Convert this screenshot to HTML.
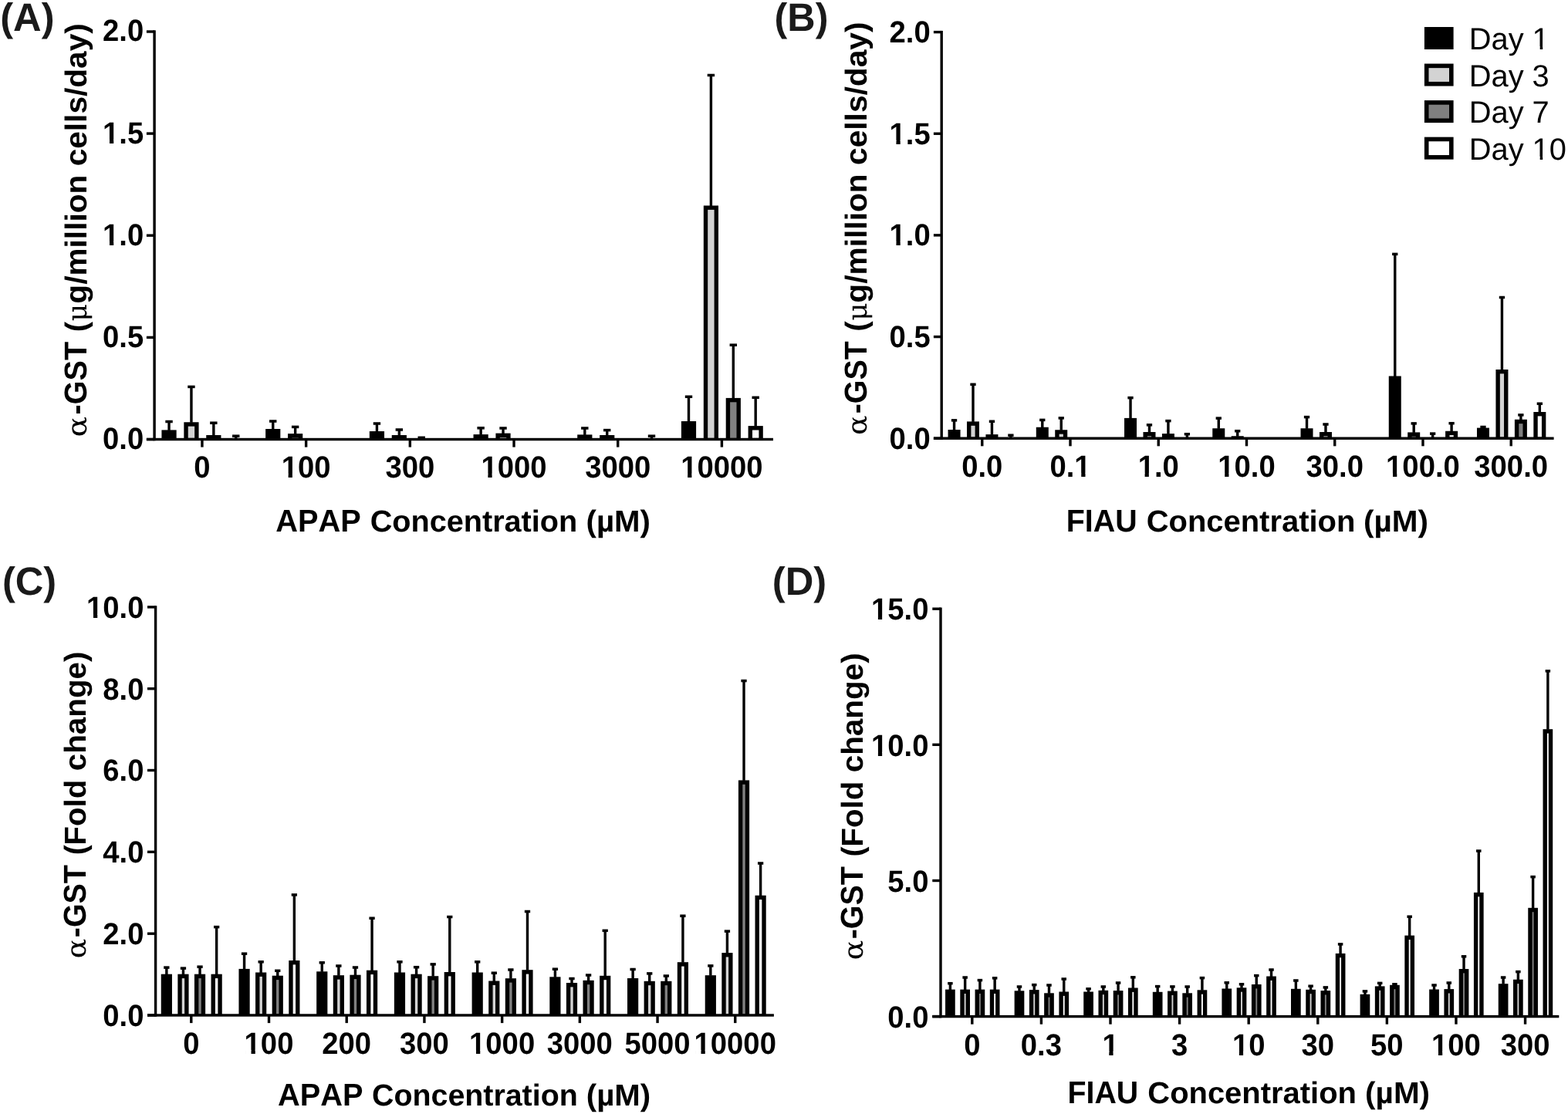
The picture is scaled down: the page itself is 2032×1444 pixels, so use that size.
<!DOCTYPE html>
<html lang="en"><head><meta charset="utf-8">
<title>α-GST release: APAP and FIAU concentration response</title>
<style>html,body{margin:0;padding:0;background:#fff;}body{width:2032px;height:1444px;overflow:hidden;}svg{display:block;}text{white-space:pre;font-kerning:none;}</style>
</head><body>
<svg xmlns="http://www.w3.org/2000/svg" width="2032" height="1444" viewBox="0 0 2032 1444" shape-rendering="auto" text-rendering="geometricPrecision">
<rect x="0" y="0" width="2032" height="1444" fill="#fff"/>
<g class="chart" id="chartA">
<g class="bars">
<rect x="209.45" y="557.4" width="19.2" height="12.1" fill="#000000"/>
<rect x="217.35" y="546.5" width="3.4" height="11.4" fill="#000000"/>
<rect x="214.35" y="544.75" width="9.4" height="3.5" fill="#000000"/>
<rect x="238.35" y="547.25" width="19.2" height="22.25" fill="#000000"/>
<rect x="243.75" y="552.65" width="8.4" height="15.15" fill="#d3d3d3"/>
<rect x="246.25" y="501.4" width="3.4" height="46.35" fill="#000000"/>
<rect x="243.25" y="499.65" width="9.4" height="3.5" fill="#000000"/>
<rect x="267.25" y="564" width="19.2" height="5.5" fill="#000000"/>
<rect x="275.15" y="548.2" width="3.4" height="16.3" fill="#000000"/>
<rect x="272.15" y="546.45" width="9.4" height="3.5" fill="#000000"/>
<rect x="304.05" y="565.2" width="3.4" height="3.1" fill="#000000"/>
<rect x="301.05" y="563.45" width="9.4" height="3.5" fill="#000000"/>
<rect x="344.14" y="556" width="19.2" height="13.5" fill="#000000"/>
<rect x="352.04" y="546" width="3.4" height="10.5" fill="#000000"/>
<rect x="349.04" y="544.25" width="9.4" height="3.5" fill="#000000"/>
<rect x="373.04" y="562.1" width="19.2" height="7.4" fill="#000000"/>
<rect x="378.44" y="567.5" width="8.4" height="0.3" fill="#d3d3d3"/>
<rect x="380.94" y="553.4" width="3.4" height="9.2" fill="#000000"/>
<rect x="377.94" y="551.65" width="9.4" height="3.5" fill="#000000"/>
<rect x="478.83" y="559" width="19.2" height="10.5" fill="#000000"/>
<rect x="486.73" y="549" width="3.4" height="10.5" fill="#000000"/>
<rect x="483.73" y="547.25" width="9.4" height="3.5" fill="#000000"/>
<rect x="507.73" y="564" width="19.2" height="5.5" fill="#000000"/>
<rect x="515.63" y="557" width="3.4" height="7.5" fill="#000000"/>
<rect x="512.63" y="555.25" width="9.4" height="3.5" fill="#000000"/>
<rect x="544.53" y="567.3" width="3.4" height="1" fill="#000000"/>
<rect x="541.53" y="565.55" width="9.4" height="3.5" fill="#000000"/>
<rect x="613.52" y="563.1" width="19.2" height="6.4" fill="#000000"/>
<rect x="621.42" y="554.8" width="3.4" height="8.8" fill="#000000"/>
<rect x="618.42" y="553.05" width="9.4" height="3.5" fill="#000000"/>
<rect x="642.42" y="561.6" width="19.2" height="7.9" fill="#000000"/>
<rect x="647.82" y="567" width="8.4" height="0.8" fill="#d3d3d3"/>
<rect x="650.32" y="555" width="3.4" height="7.1" fill="#000000"/>
<rect x="647.32" y="553.25" width="9.4" height="3.5" fill="#000000"/>
<rect x="748.21" y="563.4" width="19.2" height="6.1" fill="#000000"/>
<rect x="756.11" y="555" width="3.4" height="8.9" fill="#000000"/>
<rect x="753.11" y="553.25" width="9.4" height="3.5" fill="#000000"/>
<rect x="777.11" y="564" width="19.2" height="5.5" fill="#000000"/>
<rect x="785.01" y="557.6" width="3.4" height="6.9" fill="#000000"/>
<rect x="782.01" y="555.85" width="9.4" height="3.5" fill="#000000"/>
<rect x="842.81" y="565.2" width="3.4" height="3.1" fill="#000000"/>
<rect x="839.81" y="563.45" width="9.4" height="3.5" fill="#000000"/>
<rect x="882.9" y="546" width="19.2" height="23.5" fill="#000000"/>
<rect x="890.8" y="514.25" width="3.4" height="32.25" fill="#000000"/>
<rect x="887.8" y="512.5" width="9.4" height="3.5" fill="#000000"/>
<rect x="911.8" y="266.5" width="19.2" height="303" fill="#000000"/>
<rect x="917.2" y="271.9" width="8.4" height="295.9" fill="#d3d3d3"/>
<rect x="919.7" y="97.5" width="3.4" height="169.5" fill="#000000"/>
<rect x="916.7" y="95.75" width="9.4" height="3.5" fill="#000000"/>
<rect x="940.7" y="515.9" width="19.2" height="53.6" fill="#000000"/>
<rect x="946.1" y="521.3" width="8.4" height="46.5" fill="#808080"/>
<rect x="948.6" y="447.2" width="3.4" height="69.2" fill="#000000"/>
<rect x="945.6" y="445.45" width="9.4" height="3.5" fill="#000000"/>
<rect x="969.6" y="552.1" width="19.2" height="17.4" fill="#000000"/>
<rect x="975" y="557.5" width="8.4" height="10.3" fill="#ffffff"/>
<rect x="977.5" y="515.3" width="3.4" height="37.3" fill="#000000"/>
<rect x="974.5" y="513.55" width="9.4" height="3.5" fill="#000000"/>
</g>
<g class="axes">
<rect x="198.4" y="39.3" width="3.4" height="531.9" fill="#000000"/>
<rect x="189.9" y="567.8" width="812.1" height="3.4" fill="#000000"/>
<rect x="189.9" y="39.3" width="10.2" height="3.4" fill="#000000"/>
<rect x="189.9" y="171.4" width="10.2" height="3.4" fill="#000000"/>
<rect x="189.9" y="303.5" width="10.2" height="3.4" fill="#000000"/>
<rect x="189.9" y="435.7" width="10.2" height="3.4" fill="#000000"/>
<rect x="189.9" y="567.8" width="10.2" height="3.4" fill="#000000"/>
<rect x="260.25" y="569.5" width="3.4" height="10.1" fill="#000000"/>
<rect x="394.94" y="569.5" width="3.4" height="10.1" fill="#000000"/>
<rect x="529.63" y="569.5" width="3.4" height="10.1" fill="#000000"/>
<rect x="664.32" y="569.5" width="3.4" height="10.1" fill="#000000"/>
<rect x="799.01" y="569.5" width="3.4" height="10.1" fill="#000000"/>
<rect x="933.7" y="569.5" width="3.4" height="10.1" fill="#000000"/>
</g>
<g class="ticklabels" font-family="'Liberation Sans', Arial, Helvetica, sans-serif" font-weight="bold" font-size="39.85" fill="#000">
<g transform="translate(186.23 53.4) scale(0.96 0.995)"><text x="-55.4" y="0">2.0</text></g>
<g transform="translate(186.23 185.5) scale(0.96 0.995)"><text x="-55.4" y="0">1.5</text><rect x="-53.69" y="-4.77" width="7.59" height="5.67" fill="#fff"/><rect x="-40.63" y="-4.77" width="7.08" height="5.67" fill="#fff"/></g>
<g transform="translate(186.23 317.6) scale(0.96 0.995)"><text x="-55.4" y="0">1.0</text><rect x="-53.69" y="-4.77" width="7.59" height="5.67" fill="#fff"/><rect x="-40.63" y="-4.77" width="7.08" height="5.67" fill="#fff"/></g>
<g transform="translate(186.23 449.8) scale(0.96 0.995)"><text x="-55.4" y="0">0.5</text></g>
<g transform="translate(186.23 581.9) scale(0.96 0.995)"><text x="-55.4" y="0">0.0</text></g>
<g transform="translate(261.95 619) scale(0.96 0.995)"><text x="-11.08" y="0">0</text></g>
<g transform="translate(396.64 619) scale(0.96 0.995)"><text x="-33.24" y="0">100</text><rect x="-31.53" y="-4.77" width="7.59" height="5.67" fill="#fff"/><rect x="-18.48" y="-4.77" width="7.08" height="5.67" fill="#fff"/></g>
<g transform="translate(531.33 619) scale(0.96 0.995)"><text x="-33.24" y="0">300</text></g>
<g transform="translate(666.02 619) scale(0.96 0.995)"><text x="-44.33" y="0">1000</text><rect x="-42.62" y="-4.77" width="7.59" height="5.67" fill="#fff"/><rect x="-29.56" y="-4.77" width="7.08" height="5.67" fill="#fff"/></g>
<g transform="translate(800.71 619) scale(0.96 0.995)"><text x="-44.33" y="0">3000</text></g>
<g transform="translate(935.4 619) scale(0.96 0.995)"><text x="-55.41" y="0">10000</text><rect x="-53.7" y="-4.77" width="7.59" height="5.67" fill="#fff"/><rect x="-40.64" y="-4.77" width="7.08" height="5.67" fill="#fff"/></g>
</g>
<g class="titles">
<text transform="translate(357.2 688.8) scale(0.9992 1.025)" font-family="'Liberation Sans', Arial, Helvetica, sans-serif" font-weight="bold" font-size="39.85" fill="#000">APAP</text>
<text transform="translate(479.66 688.8) scale(0.9948 0.985)" font-family="'Liberation Sans', Arial, Helvetica, sans-serif" font-weight="bold" font-size="39.85" fill="#000">Concentration</text>
<text transform="translate(759.5 688.8) scale(1.0086 0.985)" font-family="'Liberation Sans', Arial, Helvetica, sans-serif" font-weight="bold" font-size="39.85" fill="#000">(µM)</text>
<text transform="translate(112.3 566.47) rotate(-90) scale(1.1264 1)" font-family="'DejaVu Serif', serif" font-weight="normal" font-size="35" fill="#000">α</text>
<text transform="translate(112.3 537.55) rotate(-90) scale(0.9946 1.025)" font-family="'Liberation Sans', Arial, Helvetica, sans-serif" font-weight="bold" font-size="39.85" fill="#000">-GST</text>
<text transform="translate(112.3 430.18) rotate(-90) scale(0.9988 0.985)" font-family="'Liberation Sans', Arial, Helvetica, sans-serif" font-weight="bold" font-size="39.85" fill="#000">(</text>
<text transform="translate(112.3 416.39) rotate(-90) scale(0.9937 1)" font-family="'DejaVu Serif', serif" font-weight="normal" font-size="35" fill="#000">μ</text>
<text transform="translate(112.3 393.63) rotate(-90) scale(1.0199 0.985)" font-family="'Liberation Sans', Arial, Helvetica, sans-serif" font-weight="bold" font-size="39.85" fill="#000">g/million cells/day)</text>
</g>
<text transform="translate(0.22 40) scale(1.0063 1.015)" font-family="'Liberation Sans', Arial, Helvetica, sans-serif" font-weight="bold" font-size="50.4" fill="#1a1a1a">(A)</text>
</g>
<g class="chart" id="chartB">
<g class="bars">
<rect x="1228.55" y="557" width="16" height="11.2" fill="#000000"/>
<rect x="1234.85" y="544.85" width="3.4" height="12.65" fill="#000000"/>
<rect x="1232.9" y="543.1" width="7.3" height="3.5" fill="#000000"/>
<rect x="1253" y="546.4" width="16" height="21.8" fill="#000000"/>
<rect x="1258.4" y="551.8" width="5.2" height="14.7" fill="#d3d3d3"/>
<rect x="1259.3" y="498.3" width="3.4" height="48.6" fill="#000000"/>
<rect x="1257.35" y="496.55" width="7.3" height="3.5" fill="#000000"/>
<rect x="1277.45" y="563.1" width="16" height="5.1" fill="#000000"/>
<rect x="1283.75" y="546.25" width="3.4" height="17.35" fill="#000000"/>
<rect x="1281.8" y="544.5" width="7.3" height="3.5" fill="#000000"/>
<rect x="1308.2" y="564.2" width="3.4" height="2.8" fill="#000000"/>
<rect x="1306.25" y="562.45" width="7.3" height="3.5" fill="#000000"/>
<rect x="1342.79" y="553.75" width="16" height="14.45" fill="#000000"/>
<rect x="1349.09" y="544.4" width="3.4" height="9.85" fill="#000000"/>
<rect x="1347.14" y="542.65" width="7.3" height="3.5" fill="#000000"/>
<rect x="1367.24" y="557.25" width="16" height="10.95" fill="#000000"/>
<rect x="1372.64" y="562.65" width="5.2" height="3.85" fill="#d3d3d3"/>
<rect x="1373.54" y="541.9" width="3.4" height="15.85" fill="#000000"/>
<rect x="1371.59" y="540.15" width="7.3" height="3.5" fill="#000000"/>
<rect x="1457.03" y="541.9" width="16" height="26.3" fill="#000000"/>
<rect x="1463.33" y="515.6" width="3.4" height="26.8" fill="#000000"/>
<rect x="1461.38" y="513.85" width="7.3" height="3.5" fill="#000000"/>
<rect x="1481.48" y="560" width="16" height="8.2" fill="#000000"/>
<rect x="1486.88" y="565.4" width="5.2" height="1.1" fill="#d3d3d3"/>
<rect x="1487.78" y="550.8" width="3.4" height="9.7" fill="#000000"/>
<rect x="1485.83" y="549.05" width="7.3" height="3.5" fill="#000000"/>
<rect x="1505.93" y="562.1" width="16" height="6.1" fill="#000000"/>
<rect x="1512.23" y="545.6" width="3.4" height="17" fill="#000000"/>
<rect x="1510.28" y="543.85" width="7.3" height="3.5" fill="#000000"/>
<rect x="1536.68" y="562.7" width="3.4" height="4.3" fill="#000000"/>
<rect x="1534.73" y="560.95" width="7.3" height="3.5" fill="#000000"/>
<rect x="1571.27" y="555.25" width="16" height="12.95" fill="#000000"/>
<rect x="1577.57" y="542.1" width="3.4" height="13.65" fill="#000000"/>
<rect x="1575.62" y="540.35" width="7.3" height="3.5" fill="#000000"/>
<rect x="1595.72" y="565.25" width="16" height="2.95" fill="#000000"/>
<rect x="1602.02" y="558.7" width="3.4" height="7.05" fill="#000000"/>
<rect x="1600.07" y="556.95" width="7.3" height="3.5" fill="#000000"/>
<rect x="1685.51" y="555.25" width="16" height="12.95" fill="#000000"/>
<rect x="1691.81" y="540.6" width="3.4" height="15.15" fill="#000000"/>
<rect x="1689.86" y="538.85" width="7.3" height="3.5" fill="#000000"/>
<rect x="1709.96" y="560" width="16" height="8.2" fill="#000000"/>
<rect x="1715.36" y="565.4" width="5.2" height="1.1" fill="#d3d3d3"/>
<rect x="1716.26" y="550" width="3.4" height="10.5" fill="#000000"/>
<rect x="1714.31" y="548.25" width="7.3" height="3.5" fill="#000000"/>
<rect x="1799.75" y="487.5" width="16" height="80.7" fill="#000000"/>
<rect x="1806.05" y="329.4" width="3.4" height="158.6" fill="#000000"/>
<rect x="1804.1" y="327.65" width="7.3" height="3.5" fill="#000000"/>
<rect x="1824.2" y="560.4" width="16" height="7.8" fill="#000000"/>
<rect x="1829.6" y="565.8" width="5.2" height="0.7" fill="#d3d3d3"/>
<rect x="1830.5" y="548.9" width="3.4" height="12" fill="#000000"/>
<rect x="1828.55" y="547.15" width="7.3" height="3.5" fill="#000000"/>
<rect x="1854.95" y="562.1" width="3.4" height="4.9" fill="#000000"/>
<rect x="1853" y="560.35" width="7.3" height="3.5" fill="#000000"/>
<rect x="1873.1" y="558.75" width="16" height="9.45" fill="#000000"/>
<rect x="1878.5" y="564.15" width="5.2" height="2.35" fill="#ffffff"/>
<rect x="1879.4" y="548.7" width="3.4" height="10.55" fill="#000000"/>
<rect x="1877.45" y="546.95" width="7.3" height="3.5" fill="#000000"/>
<rect x="1913.99" y="554.6" width="16" height="13.6" fill="#000000"/>
<rect x="1920.29" y="553.5" width="3.4" height="1.6" fill="#000000"/>
<rect x="1918.34" y="551.75" width="7.3" height="3.5" fill="#000000"/>
<rect x="1938.44" y="479" width="16" height="89.2" fill="#000000"/>
<rect x="1943.84" y="484.4" width="5.2" height="82.1" fill="#d3d3d3"/>
<rect x="1944.74" y="385.5" width="3.4" height="94" fill="#000000"/>
<rect x="1942.79" y="383.75" width="7.3" height="3.5" fill="#000000"/>
<rect x="1962.89" y="543.75" width="16" height="24.45" fill="#000000"/>
<rect x="1968.29" y="549.15" width="5.2" height="17.35" fill="#808080"/>
<rect x="1969.19" y="537.9" width="3.4" height="6.35" fill="#000000"/>
<rect x="1967.24" y="536.15" width="7.3" height="3.5" fill="#000000"/>
<rect x="1987.34" y="534" width="16" height="34.2" fill="#000000"/>
<rect x="1992.74" y="539.4" width="5.2" height="27.1" fill="#ffffff"/>
<rect x="1993.64" y="523.25" width="3.4" height="11.25" fill="#000000"/>
<rect x="1991.69" y="521.5" width="7.3" height="3.5" fill="#000000"/>
</g>
<g class="axes">
<rect x="1218.5" y="39.9" width="3.4" height="530" fill="#000000"/>
<rect x="1209.9" y="566.5" width="803.7" height="3.4" fill="#000000"/>
<rect x="1209.9" y="39.9" width="10.3" height="3.4" fill="#000000"/>
<rect x="1209.9" y="171.55" width="10.3" height="3.4" fill="#000000"/>
<rect x="1209.9" y="303.2" width="10.3" height="3.4" fill="#000000"/>
<rect x="1209.9" y="434.85" width="10.3" height="3.4" fill="#000000"/>
<rect x="1209.9" y="566.5" width="10.3" height="3.4" fill="#000000"/>
<rect x="1271.07" y="568.2" width="3.4" height="10.1" fill="#000000"/>
<rect x="1385.31" y="568.2" width="3.4" height="10.1" fill="#000000"/>
<rect x="1499.55" y="568.2" width="3.4" height="10.1" fill="#000000"/>
<rect x="1613.79" y="568.2" width="3.4" height="10.1" fill="#000000"/>
<rect x="1728.03" y="568.2" width="3.4" height="10.1" fill="#000000"/>
<rect x="1842.27" y="568.2" width="3.4" height="10.1" fill="#000000"/>
<rect x="1956.51" y="568.2" width="3.4" height="10.1" fill="#000000"/>
</g>
<g class="ticklabels" font-family="'Liberation Sans', Arial, Helvetica, sans-serif" font-weight="bold" font-size="39.85" fill="#000">
<g transform="translate(1205.73 54.9) scale(0.96 0.995)"><text x="-55.4" y="0">2.0</text></g>
<g transform="translate(1205.73 186.55) scale(0.96 0.995)"><text x="-55.4" y="0">1.5</text><rect x="-53.69" y="-4.77" width="7.59" height="5.67" fill="#fff"/><rect x="-40.63" y="-4.77" width="7.08" height="5.67" fill="#fff"/></g>
<g transform="translate(1205.73 318.2) scale(0.96 0.995)"><text x="-55.4" y="0">1.0</text><rect x="-53.69" y="-4.77" width="7.59" height="5.67" fill="#fff"/><rect x="-40.63" y="-4.77" width="7.08" height="5.67" fill="#fff"/></g>
<g transform="translate(1205.73 449.85) scale(0.96 0.995)"><text x="-55.4" y="0">0.5</text></g>
<g transform="translate(1205.73 581.5) scale(0.96 0.995)"><text x="-55.4" y="0">0.0</text></g>
<g transform="translate(1272.77 618.1) scale(0.96 0.995)"><text x="-27.7" y="0">0.0</text></g>
<g transform="translate(1387.01 618.1) scale(0.96 0.995)"><text x="-27.7" y="0">0.1</text><rect x="7.25" y="-4.77" width="7.59" height="5.67" fill="#fff"/><rect x="20.3" y="-4.77" width="7.08" height="5.67" fill="#fff"/></g>
<g transform="translate(1501.25 618.1) scale(0.96 0.995)"><text x="-27.7" y="0">1.0</text><rect x="-25.99" y="-4.77" width="7.59" height="5.67" fill="#fff"/><rect x="-12.93" y="-4.77" width="7.08" height="5.67" fill="#fff"/></g>
<g transform="translate(1615.49 618.1) scale(0.96 0.995)"><text x="-38.78" y="0">10.0</text><rect x="-37.07" y="-4.77" width="7.59" height="5.67" fill="#fff"/><rect x="-24.01" y="-4.77" width="7.08" height="5.67" fill="#fff"/></g>
<g transform="translate(1729.73 618.1) scale(0.96 0.995)"><text x="-38.78" y="0">30.0</text></g>
<g transform="translate(1843.97 618.1) scale(0.96 0.995)"><text x="-49.86" y="0">100.0</text><rect x="-48.15" y="-4.77" width="7.59" height="5.67" fill="#fff"/><rect x="-35.09" y="-4.77" width="7.08" height="5.67" fill="#fff"/></g>
<g transform="translate(1958.21 618.1) scale(0.96 0.995)"><text x="-49.86" y="0">300.0</text></g>
</g>
<g class="titles">
<text transform="translate(1381.77 689) scale(0.9881 1.025)" font-family="'Liberation Sans', Arial, Helvetica, sans-serif" font-weight="bold" font-size="39.85" fill="#000">FIAU</text>
<text transform="translate(1485.65 689) scale(1.0027 0.985)" font-family="'Liberation Sans', Arial, Helvetica, sans-serif" font-weight="bold" font-size="39.85" fill="#000">Concentration</text>
<text transform="translate(1766.98 689) scale(1.0162 0.985)" font-family="'Liberation Sans', Arial, Helvetica, sans-serif" font-weight="bold" font-size="39.85" fill="#000">(µM)</text>
<text transform="translate(1122.9 563.71) rotate(-90) scale(1.0668 1)" font-family="'DejaVu Serif', serif" font-weight="normal" font-size="35" fill="#000">α</text>
<text transform="translate(1122.9 536.24) rotate(-90) scale(0.9876 1.025)" font-family="'Liberation Sans', Arial, Helvetica, sans-serif" font-weight="bold" font-size="39.85" fill="#000">-GST</text>
<text transform="translate(1122.9 429.82) rotate(-90) scale(1.0166 0.985)" font-family="'Liberation Sans', Arial, Helvetica, sans-serif" font-weight="bold" font-size="39.85" fill="#000">(</text>
<text transform="translate(1122.9 415.78) rotate(-90) scale(1.0256 1)" font-family="'DejaVu Serif', serif" font-weight="normal" font-size="35" fill="#000">μ</text>
<text transform="translate(1122.9 392.63) rotate(-90) scale(1.022 0.985)" font-family="'Liberation Sans', Arial, Helvetica, sans-serif" font-weight="bold" font-size="39.85" fill="#000">g/million cells/day)</text>
</g>
<text transform="translate(1003.59 39.9) scale(0.9994 1.015)" font-family="'Liberation Sans', Arial, Helvetica, sans-serif" font-weight="bold" font-size="50.4" fill="#1a1a1a">(B)</text>
</g>
<g class="chart" id="chartC">
<g class="bars">
<rect x="208.75" y="1262.7" width="14.2" height="53.3" fill="#000000"/>
<rect x="214.15" y="1254.1" width="3.4" height="9.1" fill="#000000"/>
<rect x="212.2" y="1252.35" width="7.3" height="3.5" fill="#000000"/>
<rect x="230.35" y="1262.7" width="14.2" height="53.3" fill="#000000"/>
<rect x="235.75" y="1268.1" width="3.4" height="46.2" fill="#d3d3d3"/>
<rect x="235.75" y="1255.1" width="3.4" height="8.1" fill="#000000"/>
<rect x="233.8" y="1253.35" width="7.3" height="3.5" fill="#000000"/>
<rect x="251.95" y="1262.7" width="14.2" height="53.3" fill="#000000"/>
<rect x="257.35" y="1268.1" width="3.4" height="46.2" fill="#808080"/>
<rect x="257.35" y="1253.2" width="3.4" height="10" fill="#000000"/>
<rect x="255.4" y="1251.45" width="7.3" height="3.5" fill="#000000"/>
<rect x="273.55" y="1262.7" width="14.2" height="53.3" fill="#000000"/>
<rect x="278.95" y="1268.1" width="3.4" height="46.2" fill="#ffffff"/>
<rect x="278.95" y="1201.6" width="3.4" height="61.6" fill="#000000"/>
<rect x="277" y="1199.85" width="7.3" height="3.5" fill="#000000"/>
<rect x="309.46" y="1255.9" width="14.2" height="60.1" fill="#000000"/>
<rect x="314.86" y="1236.2" width="3.4" height="20.2" fill="#000000"/>
<rect x="312.91" y="1234.45" width="7.3" height="3.5" fill="#000000"/>
<rect x="331.06" y="1260.5" width="14.2" height="55.5" fill="#000000"/>
<rect x="336.46" y="1265.9" width="3.4" height="48.4" fill="#d3d3d3"/>
<rect x="336.46" y="1246.8" width="3.4" height="14.2" fill="#000000"/>
<rect x="334.51" y="1245.05" width="7.3" height="3.5" fill="#000000"/>
<rect x="352.66" y="1264.7" width="14.2" height="51.3" fill="#000000"/>
<rect x="358.06" y="1270.1" width="3.4" height="44.2" fill="#808080"/>
<rect x="358.06" y="1258.3" width="3.4" height="6.9" fill="#000000"/>
<rect x="356.11" y="1256.55" width="7.3" height="3.5" fill="#000000"/>
<rect x="374.26" y="1245" width="14.2" height="71" fill="#000000"/>
<rect x="379.66" y="1250.4" width="3.4" height="63.9" fill="#ffffff"/>
<rect x="379.66" y="1159.9" width="3.4" height="85.6" fill="#000000"/>
<rect x="377.71" y="1158.15" width="7.3" height="3.5" fill="#000000"/>
<rect x="410.17" y="1259.3" width="14.2" height="56.7" fill="#000000"/>
<rect x="415.57" y="1247.8" width="3.4" height="12" fill="#000000"/>
<rect x="413.62" y="1246.05" width="7.3" height="3.5" fill="#000000"/>
<rect x="431.77" y="1264.2" width="14.2" height="51.8" fill="#000000"/>
<rect x="437.17" y="1269.6" width="3.4" height="44.7" fill="#d3d3d3"/>
<rect x="437.17" y="1252" width="3.4" height="12.7" fill="#000000"/>
<rect x="435.22" y="1250.25" width="7.3" height="3.5" fill="#000000"/>
<rect x="453.37" y="1263.7" width="14.2" height="52.3" fill="#000000"/>
<rect x="458.77" y="1269.1" width="3.4" height="45.2" fill="#808080"/>
<rect x="458.77" y="1254" width="3.4" height="10.2" fill="#000000"/>
<rect x="456.82" y="1252.25" width="7.3" height="3.5" fill="#000000"/>
<rect x="474.97" y="1257.7" width="14.2" height="58.3" fill="#000000"/>
<rect x="480.37" y="1263.1" width="3.4" height="51.2" fill="#ffffff"/>
<rect x="480.37" y="1190.2" width="3.4" height="68" fill="#000000"/>
<rect x="478.42" y="1188.45" width="7.3" height="3.5" fill="#000000"/>
<rect x="510.88" y="1260.5" width="14.2" height="55.5" fill="#000000"/>
<rect x="516.28" y="1246.8" width="3.4" height="14.2" fill="#000000"/>
<rect x="514.33" y="1245.05" width="7.3" height="3.5" fill="#000000"/>
<rect x="532.48" y="1262.7" width="14.2" height="53.3" fill="#000000"/>
<rect x="537.88" y="1268.1" width="3.4" height="46.2" fill="#d3d3d3"/>
<rect x="537.88" y="1253.7" width="3.4" height="9.5" fill="#000000"/>
<rect x="535.93" y="1251.95" width="7.3" height="3.5" fill="#000000"/>
<rect x="554.08" y="1265.2" width="14.2" height="50.8" fill="#000000"/>
<rect x="559.48" y="1270.6" width="3.4" height="43.7" fill="#808080"/>
<rect x="559.48" y="1249.9" width="3.4" height="15.8" fill="#000000"/>
<rect x="557.53" y="1248.15" width="7.3" height="3.5" fill="#000000"/>
<rect x="575.68" y="1260" width="14.2" height="56" fill="#000000"/>
<rect x="581.08" y="1265.4" width="3.4" height="48.9" fill="#ffffff"/>
<rect x="581.08" y="1188.5" width="3.4" height="72" fill="#000000"/>
<rect x="579.13" y="1186.75" width="7.3" height="3.5" fill="#000000"/>
<rect x="611.59" y="1260.5" width="14.2" height="55.5" fill="#000000"/>
<rect x="616.99" y="1246.8" width="3.4" height="14.2" fill="#000000"/>
<rect x="615.04" y="1245.05" width="7.3" height="3.5" fill="#000000"/>
<rect x="633.19" y="1271.5" width="14.2" height="44.5" fill="#000000"/>
<rect x="638.59" y="1276.9" width="3.4" height="37.4" fill="#d3d3d3"/>
<rect x="638.59" y="1261.2" width="3.4" height="10.8" fill="#000000"/>
<rect x="636.64" y="1259.45" width="7.3" height="3.5" fill="#000000"/>
<rect x="654.79" y="1268.2" width="14.2" height="47.8" fill="#000000"/>
<rect x="660.19" y="1273.6" width="3.4" height="40.7" fill="#808080"/>
<rect x="660.19" y="1257" width="3.4" height="11.7" fill="#000000"/>
<rect x="658.24" y="1255.25" width="7.3" height="3.5" fill="#000000"/>
<rect x="676.39" y="1257.2" width="14.2" height="58.8" fill="#000000"/>
<rect x="681.79" y="1262.6" width="3.4" height="51.7" fill="#ffffff"/>
<rect x="681.79" y="1181.5" width="3.4" height="76.2" fill="#000000"/>
<rect x="679.84" y="1179.75" width="7.3" height="3.5" fill="#000000"/>
<rect x="712.3" y="1266.3" width="14.2" height="49.7" fill="#000000"/>
<rect x="717.7" y="1256.2" width="3.4" height="10.6" fill="#000000"/>
<rect x="715.75" y="1254.45" width="7.3" height="3.5" fill="#000000"/>
<rect x="733.9" y="1274" width="14.2" height="42" fill="#000000"/>
<rect x="739.3" y="1279.4" width="3.4" height="34.9" fill="#d3d3d3"/>
<rect x="739.3" y="1268.5" width="3.4" height="6" fill="#000000"/>
<rect x="737.35" y="1266.75" width="7.3" height="3.5" fill="#000000"/>
<rect x="755.5" y="1270.8" width="14.2" height="45.2" fill="#000000"/>
<rect x="760.9" y="1276.2" width="3.4" height="38.1" fill="#808080"/>
<rect x="760.9" y="1264" width="3.4" height="7.3" fill="#000000"/>
<rect x="758.95" y="1262.25" width="7.3" height="3.5" fill="#000000"/>
<rect x="777.1" y="1264.8" width="14.2" height="51.2" fill="#000000"/>
<rect x="782.5" y="1270.2" width="3.4" height="44.1" fill="#ffffff"/>
<rect x="782.5" y="1206.3" width="3.4" height="59" fill="#000000"/>
<rect x="780.55" y="1204.55" width="7.3" height="3.5" fill="#000000"/>
<rect x="813.01" y="1268" width="14.2" height="48" fill="#000000"/>
<rect x="818.41" y="1256.5" width="3.4" height="12" fill="#000000"/>
<rect x="816.46" y="1254.75" width="7.3" height="3.5" fill="#000000"/>
<rect x="834.61" y="1271.8" width="14.2" height="44.2" fill="#000000"/>
<rect x="840.01" y="1277.2" width="3.4" height="37.1" fill="#d3d3d3"/>
<rect x="840.01" y="1261.9" width="3.4" height="10.4" fill="#000000"/>
<rect x="838.06" y="1260.15" width="7.3" height="3.5" fill="#000000"/>
<rect x="856.21" y="1271.8" width="14.2" height="44.2" fill="#000000"/>
<rect x="861.61" y="1277.2" width="3.4" height="37.1" fill="#808080"/>
<rect x="861.61" y="1265" width="3.4" height="7.3" fill="#000000"/>
<rect x="859.66" y="1263.25" width="7.3" height="3.5" fill="#000000"/>
<rect x="877.81" y="1247.2" width="14.2" height="68.8" fill="#000000"/>
<rect x="883.21" y="1252.6" width="3.4" height="61.7" fill="#ffffff"/>
<rect x="883.21" y="1187.2" width="3.4" height="60.5" fill="#000000"/>
<rect x="881.26" y="1185.45" width="7.3" height="3.5" fill="#000000"/>
<rect x="913.72" y="1264.2" width="14.2" height="51.8" fill="#000000"/>
<rect x="919.12" y="1251.9" width="3.4" height="12.8" fill="#000000"/>
<rect x="917.17" y="1250.15" width="7.3" height="3.5" fill="#000000"/>
<rect x="935.32" y="1235.1" width="14.2" height="80.9" fill="#000000"/>
<rect x="940.72" y="1240.5" width="3.4" height="73.8" fill="#d3d3d3"/>
<rect x="940.72" y="1207.1" width="3.4" height="28.5" fill="#000000"/>
<rect x="938.77" y="1205.35" width="7.3" height="3.5" fill="#000000"/>
<rect x="956.92" y="1011.4" width="14.2" height="304.6" fill="#000000"/>
<rect x="962.32" y="1016.8" width="3.4" height="297.5" fill="#808080"/>
<rect x="962.32" y="882.5" width="3.4" height="129.4" fill="#000000"/>
<rect x="960.37" y="880.75" width="7.3" height="3.5" fill="#000000"/>
<rect x="978.52" y="1160.7" width="14.2" height="155.3" fill="#000000"/>
<rect x="983.92" y="1166.1" width="3.4" height="148.2" fill="#ffffff"/>
<rect x="983.92" y="1119" width="3.4" height="42.2" fill="#000000"/>
<rect x="981.97" y="1117.25" width="7.3" height="3.5" fill="#000000"/>
</g>
<g class="axes">
<rect x="199.9" y="785.2" width="3.4" height="532.5" fill="#000000"/>
<rect x="191" y="1314.3" width="811.9" height="3.4" fill="#000000"/>
<rect x="191" y="785.2" width="10.6" height="3.4" fill="#000000"/>
<rect x="191" y="891" width="10.6" height="3.4" fill="#000000"/>
<rect x="191" y="996.8" width="10.6" height="3.4" fill="#000000"/>
<rect x="191" y="1102.6" width="10.6" height="3.4" fill="#000000"/>
<rect x="191" y="1208.5" width="10.6" height="3.4" fill="#000000"/>
<rect x="191" y="1314.3" width="10.6" height="3.4" fill="#000000"/>
<rect x="246.1" y="1316" width="3.4" height="10.1" fill="#000000"/>
<rect x="346.81" y="1316" width="3.4" height="10.1" fill="#000000"/>
<rect x="447.52" y="1316" width="3.4" height="10.1" fill="#000000"/>
<rect x="548.23" y="1316" width="3.4" height="10.1" fill="#000000"/>
<rect x="648.94" y="1316" width="3.4" height="10.1" fill="#000000"/>
<rect x="749.65" y="1316" width="3.4" height="10.1" fill="#000000"/>
<rect x="850.36" y="1316" width="3.4" height="10.1" fill="#000000"/>
<rect x="951.07" y="1316" width="3.4" height="10.1" fill="#000000"/>
</g>
<g class="ticklabels" font-family="'Liberation Sans', Arial, Helvetica, sans-serif" font-weight="bold" font-size="39.85" fill="#000">
<g transform="translate(186.53 800.7) scale(0.96 0.995)"><text x="-77.56" y="0">10.0</text><rect x="-75.85" y="-4.77" width="7.59" height="5.67" fill="#fff"/><rect x="-62.79" y="-4.77" width="7.08" height="5.67" fill="#fff"/></g>
<g transform="translate(186.53 906.5) scale(0.96 0.995)"><text x="-55.4" y="0">8.0</text></g>
<g transform="translate(186.53 1012.3) scale(0.96 0.995)"><text x="-55.4" y="0">6.0</text></g>
<g transform="translate(186.53 1118.1) scale(0.96 0.995)"><text x="-55.4" y="0">4.0</text></g>
<g transform="translate(186.53 1224) scale(0.96 0.995)"><text x="-55.4" y="0">2.0</text></g>
<g transform="translate(186.53 1329.8) scale(0.96 0.995)"><text x="-55.4" y="0">0.0</text></g>
<g transform="translate(247.8 1365.9) scale(0.96 0.995)"><text x="-11.08" y="0">0</text></g>
<g transform="translate(348.51 1365.9) scale(0.96 0.995)"><text x="-33.24" y="0">100</text><rect x="-31.53" y="-4.77" width="7.59" height="5.67" fill="#fff"/><rect x="-18.48" y="-4.77" width="7.08" height="5.67" fill="#fff"/></g>
<g transform="translate(449.22 1365.9) scale(0.96 0.995)"><text x="-33.24" y="0">200</text></g>
<g transform="translate(549.93 1365.9) scale(0.96 0.995)"><text x="-33.24" y="0">300</text></g>
<g transform="translate(650.64 1365.9) scale(0.96 0.995)"><text x="-44.33" y="0">1000</text><rect x="-42.62" y="-4.77" width="7.59" height="5.67" fill="#fff"/><rect x="-29.56" y="-4.77" width="7.08" height="5.67" fill="#fff"/></g>
<g transform="translate(751.35 1365.9) scale(0.96 0.995)"><text x="-44.33" y="0">3000</text></g>
<g transform="translate(852.06 1365.9) scale(0.96 0.995)"><text x="-44.33" y="0">5000</text></g>
<g transform="translate(952.77 1365.9) scale(0.96 0.995)"><text x="-55.41" y="0">10000</text><rect x="-53.7" y="-4.77" width="7.59" height="5.67" fill="#fff"/><rect x="-40.64" y="-4.77" width="7.08" height="5.67" fill="#fff"/></g>
</g>
<g class="titles">
<text transform="translate(359.9 1433.2) scale(0.9992 1.025)" font-family="'Liberation Sans', Arial, Helvetica, sans-serif" font-weight="bold" font-size="39.85" fill="#000">APAP</text>
<text transform="translate(482.03 1433.2) scale(0.9879 0.985)" font-family="'Liberation Sans', Arial, Helvetica, sans-serif" font-weight="bold" font-size="39.85" fill="#000">Concentration</text>
<text transform="translate(759.8 1433.2) scale(1.0086 0.985)" font-family="'Liberation Sans', Arial, Helvetica, sans-serif" font-weight="bold" font-size="39.85" fill="#000">(µM)</text>
<text transform="translate(110.7 1242.41) rotate(-90) scale(1.093 1)" font-family="'DejaVu Serif', serif" font-weight="normal" font-size="35" fill="#000">α</text>
<text transform="translate(110.7 1215.24) rotate(-90) scale(0.9892 1.025)" font-family="'Liberation Sans', Arial, Helvetica, sans-serif" font-weight="bold" font-size="39.85" fill="#000">-GST</text>
<text transform="translate(110.7 1108.36) rotate(-90) scale(0.9899 0.985)" font-family="'Liberation Sans', Arial, Helvetica, sans-serif" font-weight="bold" font-size="39.85" fill="#000">(</text>
<text transform="translate(110.7 1095.7) rotate(-90) scale(1.0135 0.985)" font-family="'Liberation Sans', Arial, Helvetica, sans-serif" font-weight="bold" font-size="39.85" fill="#000">Fold change)</text>
</g>
<text transform="translate(2.88 770.6) scale(1.0055 1.015)" font-family="'Liberation Sans', Arial, Helvetica, sans-serif" font-weight="bold" font-size="50.4" fill="#1a1a1a">(C)</text>
</g>
<g class="chart" id="chartD">
<g class="bars">
<rect x="1225.05" y="1282.6" width="12.7" height="35" fill="#000000"/>
<rect x="1229.7" y="1274.7" width="3.4" height="8.4" fill="#000000"/>
<rect x="1228.15" y="1272.95" width="6.5" height="3.5" fill="#000000"/>
<rect x="1244.3" y="1282.6" width="12.7" height="35" fill="#000000"/>
<rect x="1249.7" y="1288" width="1.9" height="27.9" fill="#d3d3d3"/>
<rect x="1248.95" y="1267" width="3.4" height="16.1" fill="#000000"/>
<rect x="1247.4" y="1265.25" width="6.5" height="3.5" fill="#000000"/>
<rect x="1263.55" y="1282.6" width="12.7" height="35" fill="#000000"/>
<rect x="1268.95" y="1288" width="1.9" height="27.9" fill="#808080"/>
<rect x="1268.2" y="1270.6" width="3.4" height="12.5" fill="#000000"/>
<rect x="1266.65" y="1268.85" width="6.5" height="3.5" fill="#000000"/>
<rect x="1282.8" y="1282.6" width="12.7" height="35" fill="#000000"/>
<rect x="1288.2" y="1288" width="1.9" height="27.9" fill="#ffffff"/>
<rect x="1287.45" y="1267.8" width="3.4" height="15.3" fill="#000000"/>
<rect x="1285.9" y="1266.05" width="6.5" height="3.5" fill="#000000"/>
<rect x="1314.64" y="1284.3" width="12.7" height="33.3" fill="#000000"/>
<rect x="1319.29" y="1279" width="3.4" height="5.8" fill="#000000"/>
<rect x="1317.74" y="1277.25" width="6.5" height="3.5" fill="#000000"/>
<rect x="1333.89" y="1283.1" width="12.7" height="34.5" fill="#000000"/>
<rect x="1339.29" y="1288.5" width="1.9" height="27.4" fill="#d3d3d3"/>
<rect x="1338.54" y="1276.6" width="3.4" height="7" fill="#000000"/>
<rect x="1336.99" y="1274.85" width="6.5" height="3.5" fill="#000000"/>
<rect x="1353.14" y="1287.3" width="12.7" height="30.3" fill="#000000"/>
<rect x="1358.54" y="1292.7" width="1.9" height="23.2" fill="#808080"/>
<rect x="1357.79" y="1277" width="3.4" height="10.8" fill="#000000"/>
<rect x="1356.24" y="1275.25" width="6.5" height="3.5" fill="#000000"/>
<rect x="1372.39" y="1285.5" width="12.7" height="32.1" fill="#000000"/>
<rect x="1377.79" y="1290.9" width="1.9" height="25" fill="#ffffff"/>
<rect x="1377.04" y="1269" width="3.4" height="17" fill="#000000"/>
<rect x="1375.49" y="1267.25" width="6.5" height="3.5" fill="#000000"/>
<rect x="1404.23" y="1285.5" width="12.7" height="32.1" fill="#000000"/>
<rect x="1408.88" y="1281.8" width="3.4" height="4.2" fill="#000000"/>
<rect x="1407.33" y="1280.05" width="6.5" height="3.5" fill="#000000"/>
<rect x="1423.48" y="1283.8" width="12.7" height="33.8" fill="#000000"/>
<rect x="1428.88" y="1289.2" width="1.9" height="26.7" fill="#d3d3d3"/>
<rect x="1428.13" y="1279" width="3.4" height="5.3" fill="#000000"/>
<rect x="1426.58" y="1277.25" width="6.5" height="3.5" fill="#000000"/>
<rect x="1442.73" y="1284.1" width="12.7" height="33.5" fill="#000000"/>
<rect x="1448.13" y="1289.5" width="1.9" height="26.4" fill="#808080"/>
<rect x="1447.38" y="1274" width="3.4" height="10.6" fill="#000000"/>
<rect x="1445.83" y="1272.25" width="6.5" height="3.5" fill="#000000"/>
<rect x="1461.98" y="1280.5" width="12.7" height="37.1" fill="#000000"/>
<rect x="1467.38" y="1285.9" width="1.9" height="30" fill="#ffffff"/>
<rect x="1466.63" y="1266.8" width="3.4" height="14.2" fill="#000000"/>
<rect x="1465.08" y="1265.05" width="6.5" height="3.5" fill="#000000"/>
<rect x="1493.82" y="1285.8" width="12.7" height="31.8" fill="#000000"/>
<rect x="1498.47" y="1278.6" width="3.4" height="7.7" fill="#000000"/>
<rect x="1496.92" y="1276.85" width="6.5" height="3.5" fill="#000000"/>
<rect x="1513.07" y="1284.6" width="12.7" height="33" fill="#000000"/>
<rect x="1518.47" y="1290" width="1.9" height="25.9" fill="#d3d3d3"/>
<rect x="1517.72" y="1278.9" width="3.4" height="6.2" fill="#000000"/>
<rect x="1516.17" y="1277.15" width="6.5" height="3.5" fill="#000000"/>
<rect x="1532.32" y="1287.3" width="12.7" height="30.3" fill="#000000"/>
<rect x="1537.72" y="1292.7" width="1.9" height="23.2" fill="#808080"/>
<rect x="1536.97" y="1279" width="3.4" height="8.8" fill="#000000"/>
<rect x="1535.42" y="1277.25" width="6.5" height="3.5" fill="#000000"/>
<rect x="1551.57" y="1283.3" width="12.7" height="34.3" fill="#000000"/>
<rect x="1556.97" y="1288.7" width="1.9" height="27.2" fill="#ffffff"/>
<rect x="1556.22" y="1267.6" width="3.4" height="16.2" fill="#000000"/>
<rect x="1554.67" y="1265.85" width="6.5" height="3.5" fill="#000000"/>
<rect x="1583.41" y="1281.5" width="12.7" height="36.1" fill="#000000"/>
<rect x="1588.06" y="1273.8" width="3.4" height="8.2" fill="#000000"/>
<rect x="1586.51" y="1272.05" width="6.5" height="3.5" fill="#000000"/>
<rect x="1602.66" y="1280.3" width="12.7" height="37.3" fill="#000000"/>
<rect x="1608.06" y="1285.7" width="1.9" height="30.2" fill="#d3d3d3"/>
<rect x="1607.31" y="1275.8" width="3.4" height="5" fill="#000000"/>
<rect x="1605.76" y="1274.05" width="6.5" height="3.5" fill="#000000"/>
<rect x="1621.91" y="1276" width="12.7" height="41.6" fill="#000000"/>
<rect x="1627.31" y="1281.4" width="1.9" height="34.5" fill="#808080"/>
<rect x="1626.56" y="1264.6" width="3.4" height="11.9" fill="#000000"/>
<rect x="1625.01" y="1262.85" width="6.5" height="3.5" fill="#000000"/>
<rect x="1641.16" y="1265.5" width="12.7" height="52.1" fill="#000000"/>
<rect x="1646.56" y="1270.9" width="1.9" height="45" fill="#ffffff"/>
<rect x="1645.81" y="1257" width="3.4" height="9" fill="#000000"/>
<rect x="1644.26" y="1255.25" width="6.5" height="3.5" fill="#000000"/>
<rect x="1673" y="1281.8" width="12.7" height="35.8" fill="#000000"/>
<rect x="1677.65" y="1271" width="3.4" height="11.3" fill="#000000"/>
<rect x="1676.1" y="1269.25" width="6.5" height="3.5" fill="#000000"/>
<rect x="1692.25" y="1282.8" width="12.7" height="34.8" fill="#000000"/>
<rect x="1697.65" y="1288.2" width="1.9" height="27.7" fill="#d3d3d3"/>
<rect x="1696.9" y="1278.2" width="3.4" height="5.1" fill="#000000"/>
<rect x="1695.35" y="1276.45" width="6.5" height="3.5" fill="#000000"/>
<rect x="1711.5" y="1284.1" width="12.7" height="33.5" fill="#000000"/>
<rect x="1716.9" y="1289.5" width="1.9" height="26.4" fill="#808080"/>
<rect x="1716.15" y="1279.9" width="3.4" height="4.7" fill="#000000"/>
<rect x="1714.6" y="1278.15" width="6.5" height="3.5" fill="#000000"/>
<rect x="1730.75" y="1235.9" width="12.7" height="81.7" fill="#000000"/>
<rect x="1736.15" y="1241.3" width="1.9" height="74.6" fill="#ffffff"/>
<rect x="1735.4" y="1223.9" width="3.4" height="12.5" fill="#000000"/>
<rect x="1733.85" y="1222.15" width="6.5" height="3.5" fill="#000000"/>
<rect x="1762.59" y="1288.8" width="12.7" height="28.8" fill="#000000"/>
<rect x="1767.24" y="1284.9" width="3.4" height="4.4" fill="#000000"/>
<rect x="1765.69" y="1283.15" width="6.5" height="3.5" fill="#000000"/>
<rect x="1781.84" y="1278.4" width="12.7" height="39.2" fill="#000000"/>
<rect x="1787.24" y="1283.8" width="1.9" height="32.1" fill="#d3d3d3"/>
<rect x="1786.49" y="1274.4" width="3.4" height="4.5" fill="#000000"/>
<rect x="1784.94" y="1272.65" width="6.5" height="3.5" fill="#000000"/>
<rect x="1801.09" y="1276.8" width="12.7" height="40.8" fill="#000000"/>
<rect x="1806.49" y="1282.2" width="1.9" height="33.7" fill="#808080"/>
<rect x="1805.74" y="1275.8" width="3.4" height="1.5" fill="#000000"/>
<rect x="1804.19" y="1274.05" width="6.5" height="3.5" fill="#000000"/>
<rect x="1820.34" y="1212.6" width="12.7" height="105" fill="#000000"/>
<rect x="1825.74" y="1218" width="1.9" height="97.9" fill="#ffffff"/>
<rect x="1824.99" y="1188.2" width="3.4" height="24.9" fill="#000000"/>
<rect x="1823.44" y="1186.45" width="6.5" height="3.5" fill="#000000"/>
<rect x="1852.18" y="1282.5" width="12.7" height="35.1" fill="#000000"/>
<rect x="1856.83" y="1277" width="3.4" height="6" fill="#000000"/>
<rect x="1855.28" y="1275.25" width="6.5" height="3.5" fill="#000000"/>
<rect x="1871.43" y="1282.1" width="12.7" height="35.5" fill="#000000"/>
<rect x="1876.83" y="1287.5" width="1.9" height="28.4" fill="#d3d3d3"/>
<rect x="1876.08" y="1274" width="3.4" height="8.6" fill="#000000"/>
<rect x="1874.53" y="1272.25" width="6.5" height="3.5" fill="#000000"/>
<rect x="1890.68" y="1256" width="12.7" height="61.6" fill="#000000"/>
<rect x="1896.08" y="1261.4" width="1.9" height="54.5" fill="#808080"/>
<rect x="1895.33" y="1239.8" width="3.4" height="16.7" fill="#000000"/>
<rect x="1893.78" y="1238.05" width="6.5" height="3.5" fill="#000000"/>
<rect x="1909.93" y="1156.9" width="12.7" height="160.7" fill="#000000"/>
<rect x="1915.33" y="1162.3" width="1.9" height="153.6" fill="#ffffff"/>
<rect x="1914.58" y="1103" width="3.4" height="54.4" fill="#000000"/>
<rect x="1913.03" y="1101.25" width="6.5" height="3.5" fill="#000000"/>
<rect x="1941.77" y="1275.2" width="12.7" height="42.4" fill="#000000"/>
<rect x="1946.42" y="1267" width="3.4" height="8.7" fill="#000000"/>
<rect x="1944.87" y="1265.25" width="6.5" height="3.5" fill="#000000"/>
<rect x="1961.02" y="1269.7" width="12.7" height="47.9" fill="#000000"/>
<rect x="1966.42" y="1275.1" width="1.9" height="40.8" fill="#d3d3d3"/>
<rect x="1965.67" y="1259.6" width="3.4" height="10.6" fill="#000000"/>
<rect x="1964.12" y="1257.85" width="6.5" height="3.5" fill="#000000"/>
<rect x="1980.27" y="1176.8" width="12.7" height="140.8" fill="#000000"/>
<rect x="1985.67" y="1182.2" width="1.9" height="133.7" fill="#808080"/>
<rect x="1984.92" y="1136.6" width="3.4" height="40.7" fill="#000000"/>
<rect x="1983.37" y="1134.85" width="6.5" height="3.5" fill="#000000"/>
<rect x="1999.52" y="945.2" width="12.7" height="372.4" fill="#000000"/>
<rect x="2004.92" y="950.6" width="1.9" height="365.3" fill="#ffffff"/>
<rect x="2004.17" y="869.8" width="3.4" height="75.9" fill="#000000"/>
<rect x="2002.62" y="868.05" width="6.5" height="3.5" fill="#000000"/>
</g>
<g class="axes">
<rect x="1217.3" y="787.5" width="3.4" height="531.8" fill="#000000"/>
<rect x="1208.3" y="1315.9" width="812" height="3.4" fill="#000000"/>
<rect x="1208.3" y="787.5" width="10.7" height="3.4" fill="#000000"/>
<rect x="1208.3" y="963.6" width="10.7" height="3.4" fill="#000000"/>
<rect x="1208.3" y="1139.8" width="10.7" height="3.4" fill="#000000"/>
<rect x="1208.3" y="1315.9" width="10.7" height="3.4" fill="#000000"/>
<rect x="1258.12" y="1317.6" width="3.4" height="10.1" fill="#000000"/>
<rect x="1347.71" y="1317.6" width="3.4" height="10.1" fill="#000000"/>
<rect x="1437.31" y="1317.6" width="3.4" height="10.1" fill="#000000"/>
<rect x="1526.89" y="1317.6" width="3.4" height="10.1" fill="#000000"/>
<rect x="1616.49" y="1317.6" width="3.4" height="10.1" fill="#000000"/>
<rect x="1706.08" y="1317.6" width="3.4" height="10.1" fill="#000000"/>
<rect x="1795.66" y="1317.6" width="3.4" height="10.1" fill="#000000"/>
<rect x="1885.26" y="1317.6" width="3.4" height="10.1" fill="#000000"/>
<rect x="1974.85" y="1317.6" width="3.4" height="10.1" fill="#000000"/>
</g>
<g class="ticklabels" font-family="'Liberation Sans', Arial, Helvetica, sans-serif" font-weight="bold" font-size="39.85" fill="#000">
<g transform="translate(1203.43 803.4) scale(0.96 0.995)"><text x="-77.56" y="0">15.0</text><rect x="-75.85" y="-4.77" width="7.59" height="5.67" fill="#fff"/><rect x="-62.79" y="-4.77" width="7.08" height="5.67" fill="#fff"/></g>
<g transform="translate(1203.43 979.5) scale(0.96 0.995)"><text x="-77.56" y="0">10.0</text><rect x="-75.85" y="-4.77" width="7.59" height="5.67" fill="#fff"/><rect x="-62.79" y="-4.77" width="7.08" height="5.67" fill="#fff"/></g>
<g transform="translate(1203.43 1155.7) scale(0.96 0.995)"><text x="-55.4" y="0">5.0</text></g>
<g transform="translate(1203.43 1331.8) scale(0.96 0.995)"><text x="-55.4" y="0">0.0</text></g>
<g transform="translate(1259.83 1367.7) scale(0.96 0.995)"><text x="-11.08" y="0">0</text></g>
<g transform="translate(1349.41 1367.7) scale(0.96 0.995)"><text x="-27.7" y="0">0.3</text></g>
<g transform="translate(1439.01 1367.7) scale(0.96 0.995)"><text x="-11.08" y="0">1</text><rect x="-9.37" y="-4.77" width="7.59" height="5.67" fill="#fff"/><rect x="3.69" y="-4.77" width="7.08" height="5.67" fill="#fff"/></g>
<g transform="translate(1528.6 1367.7) scale(0.96 0.995)"><text x="-11.08" y="0">3</text></g>
<g transform="translate(1618.19 1367.7) scale(0.96 0.995)"><text x="-22.16" y="0">10</text><rect x="-20.45" y="-4.77" width="7.59" height="5.67" fill="#fff"/><rect x="-7.39" y="-4.77" width="7.08" height="5.67" fill="#fff"/></g>
<g transform="translate(1707.78 1367.7) scale(0.96 0.995)"><text x="-22.16" y="0">30</text></g>
<g transform="translate(1797.37 1367.7) scale(0.96 0.995)"><text x="-22.16" y="0">50</text></g>
<g transform="translate(1886.96 1367.7) scale(0.96 0.995)"><text x="-33.24" y="0">100</text><rect x="-31.53" y="-4.77" width="7.59" height="5.67" fill="#fff"/><rect x="-18.48" y="-4.77" width="7.08" height="5.67" fill="#fff"/></g>
<g transform="translate(1976.55 1367.7) scale(0.96 0.995)"><text x="-33.24" y="0">300</text></g>
</g>
<g class="titles">
<text transform="translate(1383.47 1429.5) scale(0.9876 1.025)" font-family="'Liberation Sans', Arial, Helvetica, sans-serif" font-weight="bold" font-size="39.85" fill="#000">FIAU</text>
<text transform="translate(1487.3 1429.5) scale(1.0025 0.985)" font-family="'Liberation Sans', Arial, Helvetica, sans-serif" font-weight="bold" font-size="39.85" fill="#000">Concentration</text>
<text transform="translate(1769.08 1429.5) scale(1.0162 0.985)" font-family="'Liberation Sans', Arial, Helvetica, sans-serif" font-weight="bold" font-size="39.85" fill="#000">(µM)</text>
<text transform="translate(1118.4 1244.51) rotate(-90) scale(1.093 1)" font-family="'DejaVu Serif', serif" font-weight="normal" font-size="35" fill="#000">α</text>
<text transform="translate(1118.4 1217.34) rotate(-90) scale(0.9892 1.025)" font-family="'Liberation Sans', Arial, Helvetica, sans-serif" font-weight="bold" font-size="39.85" fill="#000">-GST</text>
<text transform="translate(1118.4 1110.46) rotate(-90) scale(0.9899 0.985)" font-family="'Liberation Sans', Arial, Helvetica, sans-serif" font-weight="bold" font-size="39.85" fill="#000">(</text>
<text transform="translate(1118.4 1097.8) rotate(-90) scale(1.0144 0.985)" font-family="'Liberation Sans', Arial, Helvetica, sans-serif" font-weight="bold" font-size="39.85" fill="#000">Fold change)</text>
</g>
<text transform="translate(1000.78 770.7) scale(1.0055 1.015)" font-family="'Liberation Sans', Arial, Helvetica, sans-serif" font-weight="bold" font-size="50.4" fill="#1a1a1a">(D)</text>
</g>
<g id="legend">
<rect x="1845.9" y="35" width="37.7" height="29" fill="#000000"/>
<g transform="translate(1903.73 64)" font-family="'Liberation Sans', Arial, Helvetica, sans-serif" font-size="39.85" fill="#000"><text x="0" y="0">Day 1</text><rect x="84.17" y="-3.68" width="7.79" height="4.58" fill="#fff"/><rect x="95.48" y="-3.68" width="7.47" height="4.58" fill="#fff"/></g>
<rect x="1845.9" y="82.55" width="37.7" height="29" fill="#000000"/>
<rect x="1851.5" y="88.15" width="26.5" height="17.8" fill="#d3d3d3"/>
<g transform="translate(1903.73 111.55)" font-family="'Liberation Sans', Arial, Helvetica, sans-serif" font-size="39.85" fill="#000"><text x="0" y="0">Day 3</text></g>
<rect x="1845.9" y="130.1" width="37.7" height="29" fill="#000000"/>
<rect x="1851.5" y="135.7" width="26.5" height="17.8" fill="#808080"/>
<g transform="translate(1903.73 159.1)" font-family="'Liberation Sans', Arial, Helvetica, sans-serif" font-size="39.85" fill="#000"><text x="0" y="0">Day 7</text></g>
<rect x="1845.9" y="177.65" width="37.7" height="29" fill="#000000"/>
<rect x="1851.5" y="183.25" width="26.5" height="17.8" fill="#ffffff"/>
<g transform="translate(1903.73 206.65)" font-family="'Liberation Sans', Arial, Helvetica, sans-serif" font-size="39.85" fill="#000"><text x="0" y="0">Day 10</text><rect x="84.17" y="-3.68" width="7.79" height="4.58" fill="#fff"/><rect x="95.48" y="-3.68" width="7.47" height="4.58" fill="#fff"/></g>
</g>
</svg>
</body></html>
